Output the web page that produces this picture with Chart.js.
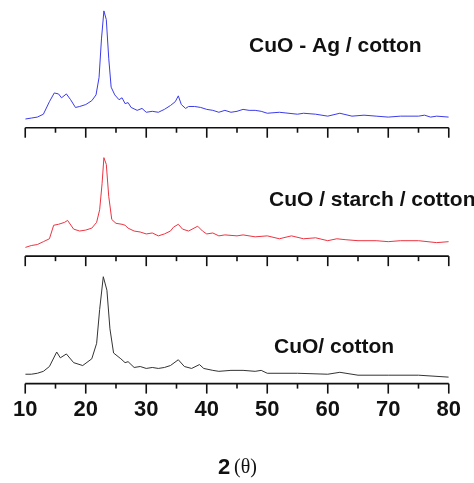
<!DOCTYPE html>
<html><head><meta charset="utf-8">
<script src="https://cdn.jsdelivr.net/npm/chart.js@4"></script>
<style>html,body{margin:0;padding:0;background:#fff}#w{width:474px;height:483px}</style>
</head><body><div id="w"><canvas id="c"></canvas></div>
<script>
const tickLabels = [10,20,30,40,50,60,70,80];
const blueX = [10,11,12,13,14,14.8,15.5,16,16.8,17.5,18.3,19,20,21,21.7,22.2,22.6,23,23.4,23.8,24.2,24.8,25.5,26,26.5,27,27.5,28.5,29.3,30,31,32,33,34,34.8,35.3,35.8,36.5,37,38,39,40,41,42,43,44,45,46,47,48,49,50,52,55,56,58,60,62,64,66,68,70,72,75,76,77,78,80];
const blueY = [0,1,2,5,18,27,26,22,26,20,12,13,15,19,25,43,83,112,103,63,33,25,20,22,16,17,12,9,11,7,8,7,10,14,18,24,15,11,13,13,12,10,9,7,9,7,8,10,9,9,8,6,7,5,6,5,3,6,3,4,3,2,3,3,4,2,3,2];
const redX = [10,11,12,13,14,14.7,15.5,16.5,17,18,19,20,21,21.8,22.3,22.7,23,23.4,23.8,24.3,25,26,26.5,27,28,29,30,31,32,33,34,34.5,35.3,36,37,38.5,39.3,40,41,42,43,45,46,48,50,52,54,56,58,60,61.5,63,65,68,70,72,75,78,80];
const redY = [0,2,3,6,9,23,24,26,28,19,17,18,20,26,39,66,93,86,53,29,25,24,23,20,17,16,14,15,12,14,17,21,24,19,17,22,17,14,15,12,13,12,13,11,12,9,12,9,10,7,9,8,7,7,6,7,7,5,6];
const blackX = [10,11,12,13,14,15.2,15.8,16.8,18,19.5,21,21.8,22.3,22.9,23.5,24,24.6,25.8,26.5,27,28,29,30,31,32,33,34,35.3,36.3,37.5,38.8,39.5,41,42,44,46,48,49,50,55,60,62,65,70,75,80];
const blackY = [0,0,1,3,8,23,17,21,12,9,16,32,67,101,87,47,22,16,12,13,7,8,6,7,6,7,9,15,8,6,10,6,4,3,4,4,3,4,1,1,0,2,-1,-1,-1,-3];
const seriesNames = ["CuO - Ag / cotton","CuO / starch / cotton","CuO/ cotton"];
const offsets = [274,141,9.7];
const panelAxes = [265,132];

function pts(xs,ys,off){return xs.map((x,i)=>({x:x,y:ys[i]+off}));}

const deco = {
  id:'deco',
  afterDraw(chart){
    const ctx=chart.ctx, xs=chart.scales.x, ys=chart.scales.y;
    ctx.save();
    ctx.strokeStyle='#111'; ctx.lineWidth=1.6;
    const axes=[...panelAxes,0];
    axes.forEach(v=>{
      const py=ys.getPixelForValue(v);
      ctx.beginPath();ctx.moveTo(xs.getPixelForValue(10),py);ctx.lineTo(xs.getPixelForValue(80),py);ctx.stroke();
      for(let t=10;t<=80;t+=5){
        const px=xs.getPixelForValue(t);
        ctx.beginPath();ctx.moveTo(px,py);ctx.lineTo(px,py+(t%10===0?10:5));ctx.stroke();
      }
    });
    ctx.fillStyle='#111';
    ctx.font='bold 21px "Liberation Sans", Arial, sans-serif';
    ctx.textBaseline='middle';
    ctx.fillText(seriesNames[0],249,46);
    ctx.fillText(seriesNames[1],269,200);
    ctx.fillText(seriesNames[2],274,347);
    ctx.font='bold 22px "Liberation Sans Narrow", "Liberation Sans", Arial, sans-serif';
    ctx.fillText('2',218,468);
    ctx.font='20px "Liberation Serif", "Times New Roman", serif';
    ctx.fillText('(θ)',234,468);
    ctx.restore();
  }
};

new Chart(document.getElementById('c'),{
  type:'line',
  data:{datasets:[
    {data:pts(blueX,blueY,offsets[0]),borderColor:'#3b3bea',borderWidth:1,pointRadius:0,tension:0},
    {data:pts(redX,redY,offsets[1]),borderColor:'#ec3442',borderWidth:1,pointRadius:0,tension:0},
    {data:pts(blackX,blackY,offsets[2]),borderColor:'#333',borderWidth:1,pointRadius:0,tension:0}
  ]},
  options:{
    responsive:true,maintainAspectRatio:false,animation:false,
    layout:{padding:{left:23,right:20,top:8,bottom:47}},
    plugins:{legend:{display:false},tooltip:{enabled:false}},
    scales:{
      x:{type:'linear',min:10,max:80,
        afterBuildTicks(s){s.ticks=tickLabels.map(v=>({value:v}));},
        grid:{display:false,drawTicks:false},border:{display:false},
        ticks:{padding:13,color:'#111',font:{family:'"Liberation Sans Narrow", "Liberation Sans", Arial, sans-serif',weight:'bold',size:22}}},
      y:{display:false,min:0,max:389}
    }
  },
  plugins:[deco]
});
</script></body></html>
